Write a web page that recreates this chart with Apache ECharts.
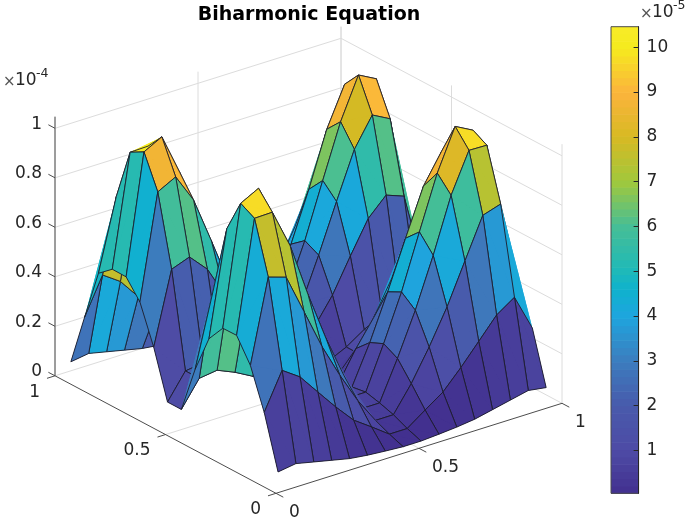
<!DOCTYPE html>
<html>
<head>
<meta charset="utf-8">
<style>html,body{margin:0;padding:0;background:#fff}#chart{width:685px;height:520px}</style>
<script src="https://cdn.jsdelivr.net/npm/echarts@6/dist/echarts.min.js"></script>
</head>
<body>
<div id="chart"></div>
<script>
// Cell-centred mesh nodes along both horizontal axes.
const meshNodes = [0.03125,0.09375,0.15625,0.21875,0.28125,0.34375,0.40625,0.46875,0.53125,0.59375,0.65625,0.71875,0.78125,0.84375,0.90625,0.96875];

// Solution height in units of 1e-4; one row per y node, one column per x node.
const heightRows = [
  [.060,.071,.055,.039,.023,.014,.008,.003,.003,.008,.014,.023,.039,.055,.071,.060],
  [.271,.418,.369,.285,.202,.126,.076,.024,.024,.076,.126,.202,.285,.369,.418,.271],
  [.431,.765,.742,.580,.417,.278,.153,.050,.050,.153,.278,.417,.580,.742,.765,.431],
  [.523,.973,.975,.816,.596,.397,.225,.068,.068,.225,.397,.596,.816,.975,.973,.523],
  [.522,1.004,1.042,.876,.661,.441,.255,.082,.082,.255,.441,.661,.876,1.042,1.004,.522],
  [.450,.872,.910,.794,.606,.412,.230,.073,.073,.230,.412,.606,.794,.910,.872,.450],
  [.297,.589,.616,.544,.415,.280,.176,.055,.055,.176,.280,.415,.544,.616,.589,.297],
  [.105,.208,.218,.187,.148,.100,.066,.030,.030,.066,.100,.148,.187,.218,.208,.105],
  [.105,.208,.218,.187,.148,.100,.066,.030,.030,.066,.100,.148,.187,.218,.208,.105],
  [.297,.589,.616,.544,.415,.280,.176,.055,.055,.176,.280,.415,.544,.616,.589,.297],
  [.450,.872,.910,.794,.606,.412,.230,.073,.073,.230,.412,.606,.794,.910,.872,.450],
  [.522,1.004,1.042,.876,.661,.441,.255,.082,.082,.255,.441,.661,.876,1.042,1.004,.522],
  [.523,.973,.975,.816,.596,.397,.225,.068,.068,.225,.397,.596,.816,.975,.973,.523],
  [.477,.765,.742,.580,.417,.278,.153,.050,.050,.153,.278,.417,.580,.742,.765,.431],
  [.271,.418,.369,.285,.202,.126,.076,.024,.024,.076,.126,.202,.285,.369,.418,.271],
  [.060,.071,.055,.039,.023,.014,.008,.003,.003,.008,.014,.023,.039,.055,.071,.060]
];

const planTicks = [0, 0.5, 1];
const heightTicks = [0, 0.2, 0.4, 0.6, 0.8, 1];
const heightTickLabels = ['0', '0.2', '0.4', '0.6', '0.8', '1'];
const planTickLabels = ['0', '0.5', '1'];
const colorbarTicks = [1, 2, 3, 4, 5, 6, 7, 8, 9, 10];

// Colour ramp: value in units of 1e-5 and the colour at that value.
const rampValues = [0.04, 1, 2, 3, 4, 4.6, 5, 6, 7, 8, 9, 10, 10.46];
const rampColors = ['#42308f','#4e4ba5','#485aac','#3c7dbe','#1ea5de','#0fb2cd','#1eb9b9','#46be96','#a0c83c','#d7b923','#fcb43c','#f5eb1e','#f7eb28'];

// Faces along the open side whose fold leaves their outer edges undrawn.
const bareFaces = ['14,1'];

const heightMax = 1.047;
const colorMin = 0.04, colorMax = 10.46;

// Orthographic view of the unit box: screen position of the origin and of each axis' unit vector.
const view = { ox: 276, oy: 493.3, xx: 286, xy: -90, yx: -221, yy: -117.5, zy: -247.5 };
function project(x, y, z) {
  return [view.ox + x * view.xx + y * view.yx, view.oy + x * view.xy + y * view.yy + z * view.zy];
}

function colorFor(v) {
  let k = 0;
  while (k < rampValues.length - 2 && v > rampValues[k + 1]) k++;
  const t = Math.min(1, Math.max(0, (v - rampValues[k]) / (rampValues[k + 1] - rampValues[k])));
  return echarts.color.lerp(t, [rampColors[k], rampColors[k + 1]]);
}

// Faces are listed far corner first so nearer faces paint over them.
const faces = [];
for (let j = meshNodes.length - 2; j >= 0; j--) {
  for (let i = meshNodes.length - 2; i >= 0; i--) faces.push([i, j]);
}

// Wall and floor grid lines.
const gridSegments = [];
heightTicks.forEach(z => {
  gridSegments.push([[0, 1, z], [1, 1, z]]);
  gridSegments.push([[1, 1, z], [1, 0, z]]);
});
planTicks.forEach(t => {
  gridSegments.push([[t, 1, 0], [t, 1, heightMax]]);
  gridSegments.push([[1, t, 0], [1, t, heightMax]]);
  if (t > 0 && t < 1) {
    gridSegments.push([[t, 0, 0], [t, 1, 0]]);
    gridSegments.push([[0, t, 0], [1, t, 0]]);
  }
});

// Rulers along the three outer edges, with their tick marks.
const rulerSegments = [
  [[0, 0, 0], [1, 0, 0]],
  [[0, 0, 0], [0, 1, 0]],
  [[0, 1, 0], [0, 1, heightMax]]
];
planTicks.forEach(t => {
  rulerSegments.push([[t, 0, 0], [t, -0.033, 0]]);
  rulerSegments.push([[0, t, 0], [-0.028, t, 0]]);
});
heightTicks.forEach(z => rulerSegments.push([[0, 1, z], [0, 1.03, z]]));

// Tick labels: anchor in data space, pixel offset, alignment.
const tickTexts = [];
planTicks.forEach((t, n) => {
  tickTexts.push({ text: planTickLabels[n], at: [t, 0, 0], dx: 13, dy: 19.5, align: 'left' });
  tickTexts.push({ text: planTickLabels[n], at: [0, t, 0], dx: -15, dy: 16.5, align: 'right' });
});
heightTicks.forEach((z, n) => {
  tickTexts.push({ text: heightTickLabels[n], at: [0, 1, z], dx: -13, dy: -4, align: 'right' });
});

// Colour bar bands.
const bandCount = 64;
const bands = [];
for (let n = 0; n < bandCount; n++) {
  const lo = colorMin + (colorMax - colorMin) * n / bandCount;
  const hi = colorMin + (colorMax - colorMin) * (n + 1) / bandCount;
  bands.push([lo, hi]);
}

const TEXT = '#262626';
const FONT = '"DejaVu Sans"';

function segmentSeries(name, segments, stroke, width, z) {
  return {
    name, type: 'custom', xAxisIndex: 0, yAxisIndex: 0, silent: true, clip: false, z,
    data: segments.map((_, n) => [n]),
    renderItem(params, api) {
      const s = segments[api.value(0)];
      const a = api.coord(project(...s[0])), b = api.coord(project(...s[1]));
      return { type: 'line', shape: { x1: a[0], y1: a[1], x2: b[0], y2: b[1] }, style: { stroke, lineWidth: width, fill: null } };
    }
  };
}

function exponentText(left, top, exponent) {
  return [
    { type: 'text', left: left, top: top + 3, silent: true, style: { text: '\u00d7', fill: '#555', font: '15px ' + FONT } },
    { type: 'text', left: left + 12, top: top, silent: true, style: { text: '10', fill: TEXT, font: '17px ' + FONT } },
    { type: 'text', left: left + 33, top: top - 5, silent: true, style: { text: exponent, fill: TEXT, font: '12.5px ' + FONT } }
  ];
}

const chart = echarts.init(document.getElementById('chart'), null, { renderer: 'canvas' });
chart.setOption({
  animation: false,
  backgroundColor: '#fff',
  title: {
    text: 'Biharmonic Equation', left: 304, top: 1, textAlign: 'center',
    textStyle: { fontFamily: FONT, fontSize: 19, fontWeight: 'bold', color: '#000' }
  },
  graphic: exponentText(3, 72, '-4').concat(exponentText(640, 4, '-5')),
  grid: [
    { left: 0, top: 0, width: 685, height: 520, show: false },
    { left: 611, top: 26.7, width: 27.6, height: 466.6, show: true, borderColor: '#4d4d4d', borderWidth: 1, backgroundColor: 'transparent', z: 5 }
  ],
  xAxis: [
    { type: 'value', gridIndex: 0, min: 0, max: 685, show: false },
    { type: 'value', gridIndex: 1, min: 0, max: 1, show: false }
  ],
  yAxis: [
    { type: 'value', gridIndex: 0, min: 0, max: 520, inverse: true, show: false },
    {
      type: 'value', gridIndex: 1, min: colorMin, max: colorMax, position: 'right', z: 6,
      axisLine: { show: true, onZero: false, lineStyle: { color: TEXT, width: 1 } },
      axisTick: { show: true, inside: true, length: 5, customValues: colorbarTicks, lineStyle: { color: TEXT, width: 1 } },
      axisLabel: { show: true, margin: 8, customValues: colorbarTicks, color: TEXT, fontFamily: FONT, fontSize: 17, padding: [2, 0, 0, 0] },
      splitLine: { show: false }
    }
  ],
  series: [
    segmentSeries('grid lines', gridSegments, '#dcdcdc', 1, 1),
    {
      name: 'surface', type: 'custom', xAxisIndex: 0, yAxisIndex: 0, silent: true, clip: false, z: 2,
      data: faces,
      renderItem(params, api) {
        const i = api.value(0), j = api.value(1);
        const corner = (a, b) => api.coord(project(meshNodes[a], meshNodes[b], heightRows[b][a]));
        const a = corner(i, j), b = corner(i + 1, j), c = corner(i + 1, j + 1), d = corner(i, j + 1);
        const fill = colorFor(heightRows[j][i] * 10);
        // A face that folds over in the view fills as two triangles split on one diagonal;
        // the quad underneath closes the seam between them.
        const patch = pts => ({ type: 'polygon', shape: { points: pts }, style: { fill, stroke: null } });
        const children = [patch([a, b, c, d]), patch([a, b, d]), patch([b, c, d])];
        if (!bareFaces.includes(i + ',' + j)) {
          children.push({
            type: 'polygon', shape: { points: [a, b, c, d] },
            style: { fill: null, stroke: '#1c1c2a', lineWidth: 0.9, lineJoin: 'round' }
          });
        }
        return { type: 'group', children };
      }
    },
    segmentSeries('rulers', rulerSegments, '#4d4d4d', 1, 3),
    {
      name: 'tick labels', type: 'custom', xAxisIndex: 0, yAxisIndex: 0, silent: true, clip: false, z: 4,
      data: tickTexts.map((_, n) => [n]),
      renderItem(params, api) {
        const t = tickTexts[api.value(0)];
        const p = api.coord(project(...t.at));
        return {
          type: 'text', x: p[0] + t.dx, y: p[1] + t.dy,
          style: { text: t.text, fill: TEXT, font: '17px ' + FONT, align: t.align, verticalAlign: 'middle' }
        };
      }
    },
    {
      name: 'colour bar', type: 'custom', xAxisIndex: 1, yAxisIndex: 1, silent: true, z: 3,
      data: bands,
      renderItem(params, api) {
        const a = api.coord([0, api.value(1)]), b = api.coord([1, api.value(0)]);
        const mid = (api.value(0) + api.value(1)) / 2;
        return {
          type: 'rect',
          shape: { x: a[0], y: a[1], width: b[0] - a[0], height: b[1] - a[1] + 0.6 },
          style: { fill: colorFor(mid), stroke: null }
        };
      }
    }
  ]
});
</script>
</body>
</html>
